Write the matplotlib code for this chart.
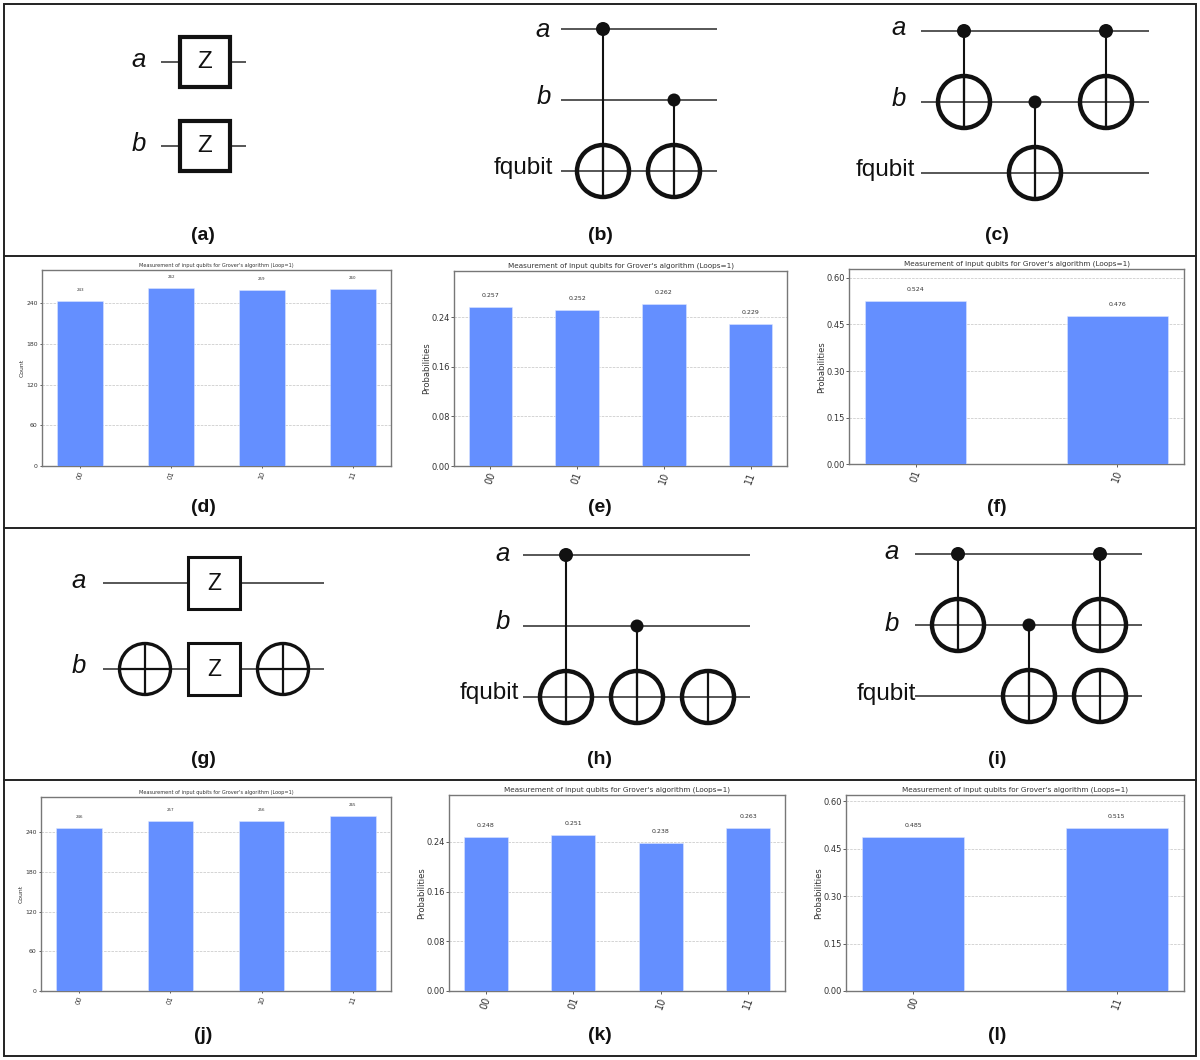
"""Grover oracle circuits and measurement histograms, panels (a)-(l)."""
import matplotlib
matplotlib.use("Agg")
import matplotlib.pyplot as plt
from matplotlib import font_manager as fm
from matplotlib.patches import Circle, Rectangle

W, H = 1200, 1060
BAR = "#648fff"
INK = "#111111"
WIRE = "#3a3a3a"
SANS = "Liberation Sans"

TITLE_LOOP = "Measurement of input qubits for Grover's algorithm (Loop=1)"
TITLE_LOOPS = "Measurement of input qubits for Grover's algorithm (Loops=1)"

states_all = ["00", "01", "10", "11"]

counts_d = [243, 262, 259, 260]
probs_e = [0.257, 0.252, 0.262, 0.229]
states_f = ["01", "10"]
probs_f = [0.524, 0.476]

counts_j = [246, 257, 256, 265]
probs_k = [0.248, 0.251, 0.238, 0.263]
states_l = ["00", "11"]
probs_l = [0.485, 0.515]

panel_letters = list("abcdefghijkl")
letter_x = [203, 600, 997] * 4
letter_y = [235] * 3 + [507] * 3 + [759] * 3 + [1035] * 3
frame_rows = [4, 256, 528, 780, 1056]


def sans_font(filename, **fallback):
    # the plain family lookup can land on Liberation Sans Narrow, so pick the file
    for f in fm.fontManager.ttflist:
        if f.fname.endswith(filename):
            return fm.FontProperties(fname=f.fname)
    return fm.FontProperties(family=SANS, **fallback)


REGULAR = sans_font("LiberationSans-Regular.ttf")
ITALIC = sans_font("LiberationSans-Italic.ttf", style="italic")
BOLD = sans_font("LiberationSans-Bold.ttf", weight="bold")


def wire(ov, x0, x1, y, lw=1.2):
    ov.plot([x0, x1], [y, y], color=WIRE, lw=lw, zorder=1, solid_capstyle="butt")


def control(ov, x, y0, y1, r=7):
    ov.add_patch(Circle((x, y0), r, fc=INK, ec=INK, lw=0, zorder=4))
    ov.plot([x, x], [y0, y1], color=INK, lw=1.5, zorder=2, solid_capstyle="butt")


def target(ov, x, y, r=26, lw=3.2, bar=False):
    ov.add_patch(Circle((x, y), r, fc="none", ec=INK, lw=lw, zorder=3))
    ov.plot([x, x], [y - r, y + r], color=INK, lw=1.6, zorder=2, solid_capstyle="butt")
    if bar:
        ov.plot([x - r, x + r], [y, y], color=INK, lw=1.6, zorder=2, solid_capstyle="butt")


def zgate(ov, x, y, s=50, lw=3, size=17.5):
    ov.add_patch(Rectangle((x - s / 2, y - s / 2), s, s, fc="white", ec=INK, lw=lw, zorder=3))
    ov.text(x, y, "Z", fontproperties=REGULAR, fontsize=size, ha="center", va="center", color=INK, zorder=4)


def qlabel(ov, x, y, name):
    font = REGULAR if name == "fqubit" else ITALIC
    size = 17.5 if name == "fqubit" else 18.5
    ov.text(x, y, name, fontproperties=font, fontsize=size, ha="center", va="center", color=INK)


def hist(box, states, vals, ylim, yticks, fmt, ylabel, title, sizes, xpad):
    left, top, right, bottom = box
    ax = fig.add_axes([left / W, 1 - bottom / H, (right - left) / W, (bottom - top) / H])
    xs = list(range(len(states)))
    ax.bar(xs, vals, width=0.5, color=BAR, edgecolor="#dce6ff", linewidth=0.4, zorder=3)
    ax.set_xlim(-xpad, len(states) - 1 + xpad)
    ax.set_ylim(0, ylim)
    ax.set_xticks(xs, states, rotation=70, fontsize=sizes["xtick"], color="#333333")
    ax.set_yticks(yticks, [fmt.format(t) for t in yticks], fontsize=sizes["tick"], color="#333333")
    ax.tick_params(length=sizes["ticklen"], width=0.6, pad=sizes["pad"], color="#444444")
    ax.set_ylabel(ylabel, fontsize=sizes["label"], color="#333333", labelpad=sizes["labelpad"])
    ax.set_title(title, fontsize=sizes["title"], color="#333333", pad=2.5)
    ax.grid(axis="y", ls="--", lw=0.5, color="#c4c4c4", zorder=0)
    ax.set_axisbelow(True)
    for s in ax.spines.values():
        s.set_color("#777777")
        s.set_linewidth(1)
    for x, v in zip(xs, vals):
        label = str(v) if fmt == "{:d}" else f"{v:.3f}"
        ax.annotate(label, (x, v), xytext=(0, sizes["off"]), textcoords="offset points",
                    ha="center", va="bottom", fontsize=sizes["val"], color="#333333")
    return ax


fig = plt.figure(figsize=(W / 100, H / 100), dpi=100, facecolor="white")
ov = fig.add_axes([0, 0, 1, 1], zorder=5)
ov.set_xlim(0, W)
ov.set_ylim(H, 0)
ov.axis("off")
ov.patch.set_alpha(0)

# frames
ov.add_patch(Rectangle((4, 4), 1192, 1052, fc="none", ec="#222222", lw=1.4))
for y in frame_rows[1:-1]:
    ov.plot([4, 1196], [y, y], color="#222222", lw=1.4)

# (a)
for y, name in [(62, "a"), (146, "b")]:
    wire(ov, 161, 246, y)
    zgate(ov, 204.5, y)
    qlabel(ov, 139, y - 2, name)

# (b)
for y in (29, 100, 171):
    wire(ov, 561, 717, y)
control(ov, 603, 29, 171)
control(ov, 674, 100, 171, r=6.5)
target(ov, 603, 171)
target(ov, 674, 171)
qlabel(ov, 543, 30, "a")
qlabel(ov, 544, 97, "b")
qlabel(ov, 523, 168, "fqubit")

# (c)
for y in (31, 102, 173):
    wire(ov, 921, 1149, y)
control(ov, 964, 31, 102)
control(ov, 1035, 102, 173, r=6.5)
control(ov, 1106, 31, 102)
target(ov, 964, 102)
target(ov, 1035, 173)
target(ov, 1106, 102)
qlabel(ov, 899, 28, "a")
qlabel(ov, 899, 99, "b")
qlabel(ov, 885, 170, "fqubit")

# (g) has thinner outlines than the other circuits
wire(ov, 103, 324, 583)
wire(ov, 103, 324, 669)
zgate(ov, 214, 583, s=51.5, lw=2.2, size=16.5)
zgate(ov, 214, 669, s=51.5, lw=2.2, size=16.5)
target(ov, 145, 669, r=25.5, lw=2.4, bar=True)
target(ov, 283, 669, r=25.5, lw=2.4, bar=True)
qlabel(ov, 79, 581, "a")
qlabel(ov, 79, 666, "b")

# (h)
for y in (555, 626, 697):
    wire(ov, 523, 750, y)
control(ov, 566, 555, 697)
control(ov, 637, 626, 697, r=6.5)
target(ov, 566, 697)
target(ov, 637, 697)
target(ov, 708, 697)
qlabel(ov, 503, 554, "a")
qlabel(ov, 503, 622, "b")
qlabel(ov, 489, 693, "fqubit")

# (i)
for y in (554, 625, 696):
    wire(ov, 915, 1142, y)
control(ov, 958, 554, 625)
control(ov, 1029, 625, 696, r=6.5)
control(ov, 1100, 554, 625)
target(ov, 958, 625)
target(ov, 1029, 696)
target(ov, 1100, 625)
target(ov, 1100, 696)
qlabel(ov, 892, 552, "a")
qlabel(ov, 892, 624, "b")
qlabel(ov, 886, 694, "fqubit")

for letter, x, y in zip(panel_letters, letter_x, letter_y):
    ov.text(x, y, f"({letter})", fontproperties=BOLD, fontsize=14,
            ha="center", va="center", color=INK)

small = {"tick": 4.4, "xtick": 4.8, "label": 4.4, "title": 3.6, "val": 2.9, "off": 6.5,
         "ticklen": 1.5, "pad": 1.5, "labelpad": 1}
large = {"tick": 6, "xtick": 7, "label": 6, "title": 5.2, "val": 4.5, "off": 6.5,
         "ticklen": 2, "pad": 1.2, "labelpad": 0}
count_ticks = [0, 60, 120, 180, 240]
prob4_ticks = [0, 0.08, 0.16, 0.24]
prob2_ticks = [0, 0.15, 0.30, 0.45, 0.60]

hist((42, 270, 391, 466), states_all, counts_d, 288.6, count_ticks, "{:d}", "Count", TITLE_LOOP, small, 0.42)
hist((454, 271, 787, 466), states_all, probs_e, 0.315, prob4_ticks, "{:.2f}", "Probabilities", TITLE_LOOPS, large, 0.42)
hist((849, 269, 1184, 464.5), states_f, probs_f, 0.628, prob2_ticks, "{:.2f}", "Probabilities", TITLE_LOOPS, large, 0.33)
hist((41, 797, 391, 991), states_all, counts_j, 293, count_ticks, "{:d}", "Count", TITLE_LOOP, small, 0.42)
hist((449, 795, 785, 991), states_all, probs_k, 0.3157, prob4_ticks, "{:.2f}", "Probabilities", TITLE_LOOPS, large, 0.42)
hist((846, 795, 1184, 991), states_l, probs_l, 0.619, prob2_ticks, "{:.2f}", "Probabilities", TITLE_LOOPS, large, 0.33)

fig.savefig("out.png", dpi=100)
plt.close(fig)
